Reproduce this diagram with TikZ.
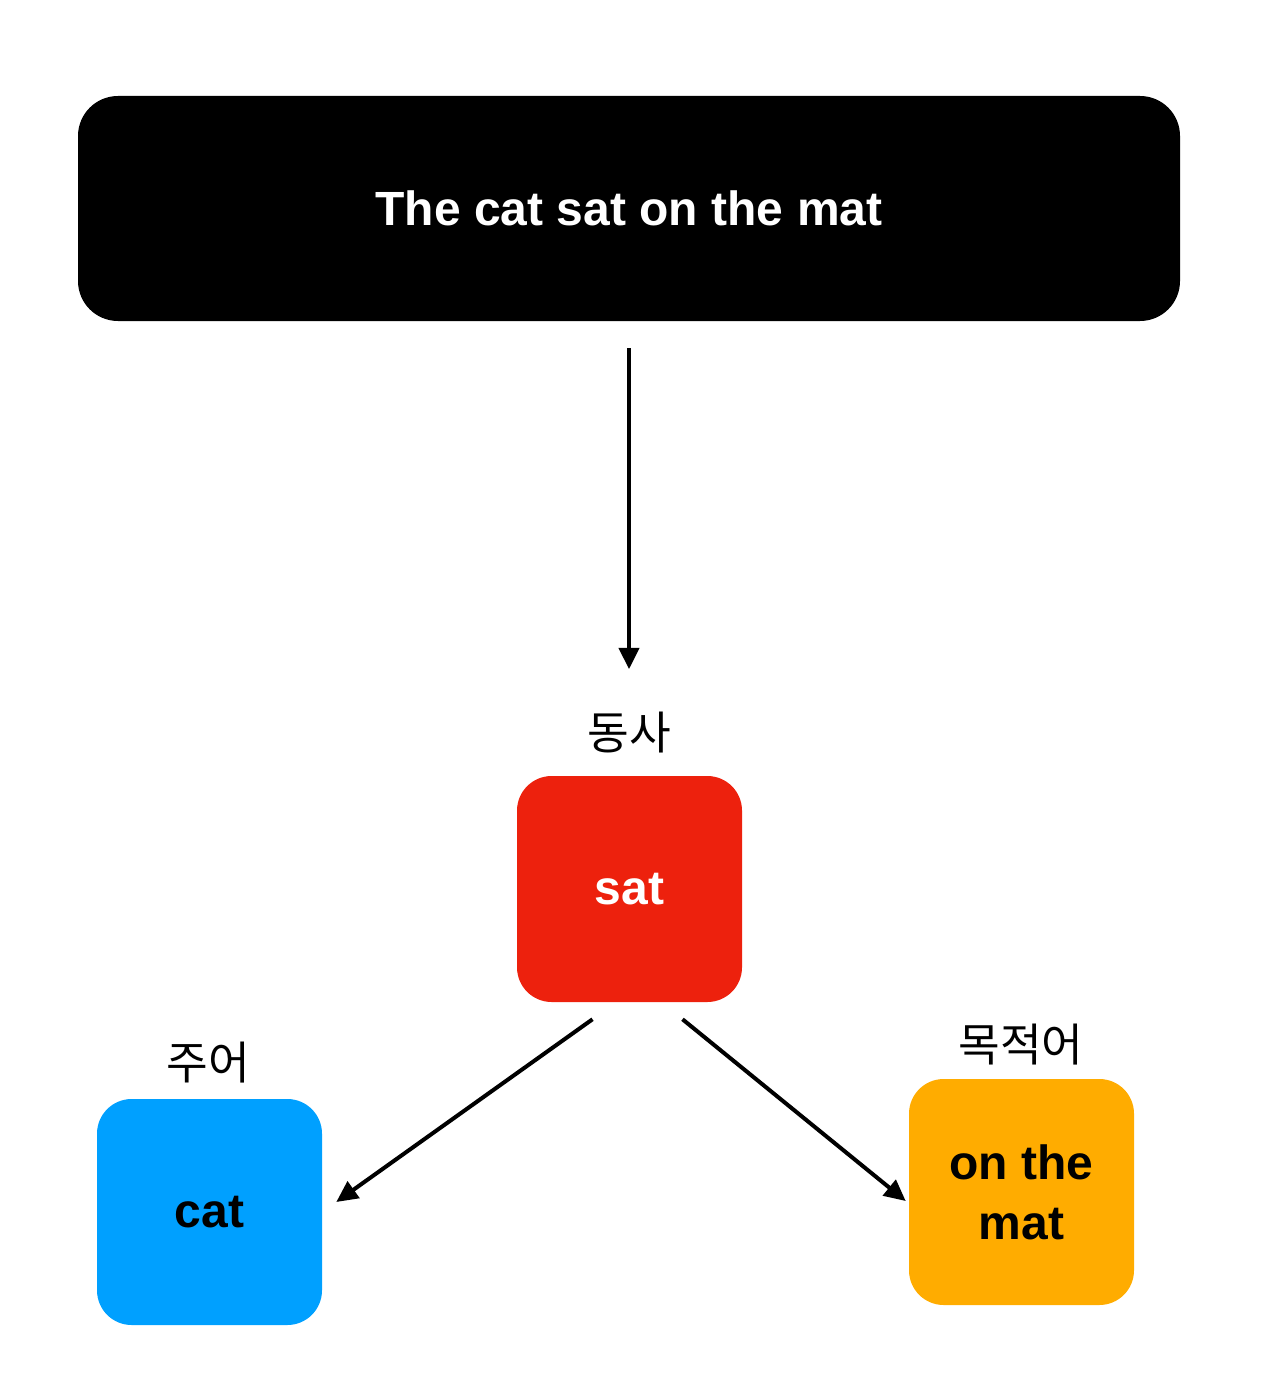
\documentclass[tikz,border=0pt]{standalone}
\usepackage{fontspec}
\setmainfont{Liberation Sans}
\newfontfamily\kofont{Noto Sans CJK KR}
\usetikzlibrary{arrows.meta}
\definecolor{topblack}{RGB}{0,0,0}
\definecolor{verbred}{RGB}{237,33,13}
\definecolor{subjblue}{RGB}{0,160,255}
\definecolor{objorange}{RGB}{255,172,0}
\tikzset{
  wordbox/.style={rounded corners=26pt, inner sep=0pt, minimum width=168.75pt, minimum height=169.5pt,
    font=\fontsize{36}{45}\selectfont\bfseries, align=center},
  rolelabel/.style={font=\kofont\fontsize{34}{40}\selectfont, inner sep=0pt},
  conn/.style={line width=3pt, -{Triangle[length=16pt,width=15pt]}}
}
\begin{document}
\begin{tikzpicture}[x=0.75pt,y=-0.75pt]
\useasboundingbox (0,0) rectangle (1280,1373);
\node[fill=topblack, text=white, rounded corners=30pt, inner sep=0pt,
      minimum width=826.5pt, minimum height=168.75pt,
      font=\fontsize{36}{45}\selectfont\bfseries] (sent) at (629,208.5) {The cat sat on the mat};
\node[wordbox, fill=verbred, text=white] (sat) at (629.5,889) {sat};
\node[wordbox, fill=subjblue, text=black] (cat) at (209.5,1212) {cat};
\node[wordbox, fill=objorange, text=black] (obj) at (1021.5,1192) {on the\\mat};
\node[rolelabel] (verblab) at (629,733) {동사};
\node[rolelabel] (subjlab) at (208,1063) {주어};
\node[rolelabel] (objlab) at (1021,1045) {목적어};
\draw[conn] ([yshift=-27pt*0.75]sent.south) -- ([yshift=43*0.75pt]verblab.north);
\draw[conn] ([shift={(-37,17)}]sat.south) -- ([shift={(14,-10)}]cat.east);
\draw[conn] ([shift={(53,17)}]sat.south) -- ([shift={(-3,9)}]obj.west);
\end{tikzpicture}
\end{document}
